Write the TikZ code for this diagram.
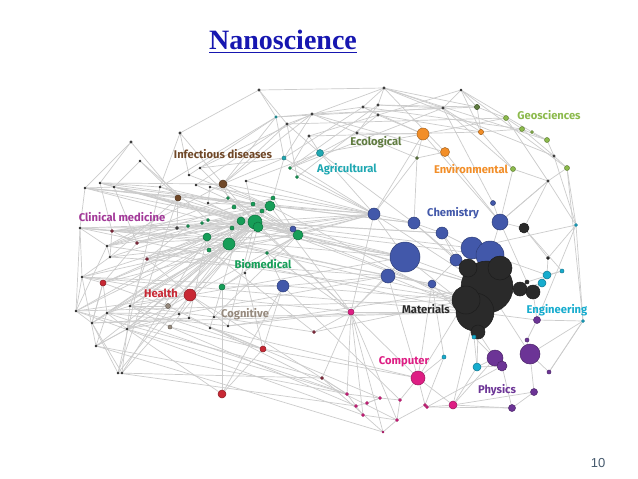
\documentclass[tikz,border=0pt]{standalone}
\usepackage{fontspec}
\setsansfont{Fira Sans}
\newfontfamily\titlefont{Liberation Serif}
\newfontfamily\pagefont{Liberation Sans}
\usepackage{xcolor}
\usepackage{tikz}
\usetikzlibrary{backgrounds}
\definecolor{biomed}{RGB}{22,158,88}
\definecolor{infect}{RGB}{112,72,40}
\definecolor{agri}{RGB}{32,168,178}
\definecolor{ecol}{RGB}{96,124,64}
\definecolor{envir}{RGB}{242,142,40}
\definecolor{geosci}{RGB}{140,186,76}
\definecolor{chem}{RGB}{66,88,170}
\definecolor{mater}{RGB}{42,42,42}
\definecolor{engin}{RGB}{22,172,206}
\definecolor{phys}{RGB}{108,52,150}
\definecolor{comp}{RGB}{222,30,132}
\definecolor{health}{RGB}{200,40,52}
\definecolor{cogn}{RGB}{150,138,126}
\definecolor{clinic}{RGB}{162,56,152}
\definecolor{misc}{RGB}{64,64,64}
\definecolor{dkred}{RGB}{140,44,64}
\definecolor{titleblue}{RGB}{22,22,176}
\definecolor{pagenum}{RGB}{70,90,110}
\tikzset{
  dot/.style      = {circle, inner sep=0pt, fill=#1, draw=#1!70!black, line width=0.25pt},
  link/.style     = {draw=black!20, line width=0.35pt},
  lbl/.style      = {font=\sffamily\bfseries\fontsize{5.6}{6}\selectfont, inner sep=0pt, text=#1},
  titletxt/.style = {font=\titlefont\bfseries\fontsize{14}{16}\selectfont, text=titleblue, inner sep=0pt},
  pagetxt/.style  = {font=\pagefont\fontsize{6.5}{7}\selectfont, text=pagenum, inner sep=0pt},
}

\begin{document}
\begin{tikzpicture}[x=0.5pt,y=-0.5pt]
  \useasboundingbox (0,0) rectangle (638,478);

  \node[titletxt] (title) at (283,42) {\underline{Nanoscience}};
  \node[pagetxt] (page) at (598,463) {10};

  % field nodes: name/x/y/radius/colour
  \foreach \n/\x/\y/\r/\c in {%
    t1/259/90/1.2/misc, t2/180/133/1.2/misc, t3/131/142/1.2/misc, t4/276/117/1.3/agri,
    t5/287/124/1.2/misc, t6/312/114/1.2/misc, t7/309/136/1.2/misc, t8/140/161/1/misc,
    t9/363/107/1.2/misc, t10/378/105/1.2/misc, t11/378/115/1.2/misc, t12/357/133/1.2/misc,
    t13/384/88/1.2/misc, t14/443/108/1.2/misc, t15/461/90/1/misc, t16/548/181/1.2/misc,
    t17/554/156/1.2/misc,
    e1/477/107/2.6/ecol, e2/417/158/1.5/ecol,
    o1/423/134/6/envir, o2/481/132/2.6/envir, o3/445/152/4.5/envir,
    g1/506/118/2.5/geosci, g2/522/129/2.5/geosci, g3/532/132/1.5/geosci, g4/547/140/2.5/geosci,
    g5/567/168/2.5/geosci, g6/513/169/2.5/geosci,
    a1/320/153/3.5/agri, a2/284/158/2/agri,
    i1/223/184/4/infect, i2/178/198/3/infect,
    b1/290/168/1.5/biomed, b2/297/177/1.5/biomed, b3/228/198/1.5/biomed, b4/234/207/2/biomed,
    b5/253/204/2/biomed, b6/273/198/2/biomed, b7/270/206/5/biomed, b8/262/211/2/biomed,
    b9/208/220/1.5/biomed, b10/202/223/1.5/biomed, b11/241/221/4/biomed, b12/255/222/7/biomed,
    b13/258/227/5/biomed, b14/232/228/2/biomed, b15/298/235/5/biomed, b16/207/237/4/biomed,
    b17/229/244/6/biomed, b18/209/250/2/biomed, b19/267/253/1.5/biomed, b20/222/287/3/biomed,
    b21/188/226/1.5/biomed,
    c1/374/214/6/chem, c2/414/223/6/chem, c3/442/233/6/chem, c4/500/222/8/chem,
    c5/493/203/2.5/chem, c6/405/257/15/chem, c7/472/248/11/chem, c8/490/255/14/chem,
    c9/456/260/6/chem, c10/388/276/7/chem, c11/432/284/4/chem, c12/283/286/6/chem,
    c13/293/229/3/chem,
    m1/487/287/26/mater, m2/475/312/19/mater, m3/468/268/9/mater, m4/478/332/7/mater,
    m5/520/289/7/mater, m6/533/292/7/mater, m7/524/228/5/mater, m8/548/258/1.5/mater,
    m9/527/282/2/mater, m10/500/268/12/mater, m11/466/300/14/mater,
    n1/576/225/1.5/engin, n2/547/275/4/engin, n3/542/283/4/engin, n4/562/271/2/engin,
    n5/583/321/1.5/engin, n6/474/337/2/engin, n7/477/367/4/engin, n8/444/357/2/engin,
    p1/537/320/3.5/phys, p2/527/340/2/phys, p3/530/354/10/phys, p4/495/358/8/phys,
    p5/502/366/5/phys, p6/549/372/2/phys, p7/534/392/3.5/phys, p8/512/408/3.5/phys,
    q1/418/378/7/comp, q2/453/405/4/comp, q3/351/312/3/comp, q4/347/394/1.5/comp,
    q5/356/406/1.5/comp, q6/367/403/1.5/comp, q7/363/415/1.5/comp, q8/380/398/1.5/comp,
    q9/400/400/1.5/comp, q10/397/420/1.5/comp, q11/425/405/1.5/comp, q12/427/407/1.5/comp,
    q13/383/432/1/comp,
    h1/190/295/6/health, h2/103/283/3/health, h3/263/349/3/health, h4/222/394/4/health,
    h5/314/332/1.5/dkred, h6/322/378/1.5/dkred,
    k1/168/306/2.5/cogn, k2/170/327/2/cogn, k3/179/314/1/misc, k4/189/318/1/misc,
    k5/214/317/1/misc, k6/228/326/1/misc, k7/210/328/1/misc,
    l1/85/188/1/misc, l2/100/183/1/misc, l3/114/187/1/misc, l4/160/187/1/misc,
    l5/196/185/1/misc, l6/210/187/1/misc, l7/246/181/1/misc, l8/80/228/1/misc,
    l9/112/231/1.5/dkred, l10/137/243/1.5/dkred, l11/107/246/1/misc, l12/147/259/1.5/dkred,
    l13/110/257/1/misc, l14/82/277/1/misc, l16/130/306/1/misc, l17/92/323/1/misc,
    l18/76/311/1/misc, l19/107/313/1/misc, l20/127/329/1/misc, l21/96/346/1/misc,
    l22/118/373/1/misc, l23/122/373/1/misc, l24/245/273/1/misc, l25/177/228/1.5/misc,
    l26/200/168/1/misc, l27/189/175/1/misc, l28/208/203/1/misc}
  {
    \node[dot=\c, minimum size=\r*1pt] (\n) at (\x,\y) {};
  }

  % field names
  \node[lbl=infect] (infectlbl) at (223,154) {Infectious diseases};
  \node[lbl=clinic] (cliniclbl) at (122,217) {Clinical medicine};
  \node[lbl=biomed] (biomedlbl) at (263,264) {Biomedical};
  \node[lbl=health] (healthlbl) at (161,293) {Health};
  \node[lbl=cogn] (cognlbl) at (245,314) {Cognitive};
  \node[lbl=agri] (agrilbl) at (347,169) {Agricultural};
  \node[lbl=ecol] (ecollbl) at (376,142) {Ecological};
  \node[lbl=envir] (envirlbl) at (471,169) {Environmental};
  \node[lbl=geosci] (geoscilbl) at (549,115) {Geosciences};
  \node[lbl=chem] (chemlbl) at (453,213) {Chemistry};
  \node[lbl=mater] (materlbl) at (426,309) {Materials};
  \node[lbl=engin] (enginlbl) at (557,310) {Engineering};
  \node[lbl=comp] (complbl) at (404,362) {Computer};
  \node[lbl=phys] (physlbl) at (497,390) {Physics};

  % citation links
  \begin{scope}[on background layer]
  \fill[white] (0,0) rectangle (638,478);
  \foreach \a/\b in {%
    t2/t1, t1/t5, t1/t4, t2/l4, t2/i1, t2/l27, t3/l2, t3/i2, t3/l1, t8/l3, t8/i2, t8/b9,
    t4/t6, t4/a2, t5/a1, t5/b2, t6/t9, t6/t12, t6/a2, t7/a1, t7/t11, t7/b1, t9/t13, t9/o1,
    t10/t14, t10/e1, t11/o1, t11/o2, t12/o1, t12/e2, t12/a1, t13/t14, t13/o3, t14/t15,
    t14/o2, t14/c5, t15/e1, t15/g3, e1/g1, e1/o2, g1/g2, g2/g4, g3/g4, g4/t17, t17/g5,
    g5/n1, g5/t16, g6/t16, g6/o2, g6/c4, t16/n1, t16/c4, o1/g1, o1/c4, o1/e2, o3/e2,
    o3/c4, o2/g2, e2/c1, e2/c2, a1/c1, a1/b1, a1/o1, a2/i1, a2/b6, t4/i1, b1/t14, b2/t11,
    i1/t6, l5/t5, l4/t4, t1/t13, t10/t13, t9/t11, t12/t10, t17/n1, g2/t17, g1/t16,
    t15/o2, t13/e1, t5/g1, t6/e1, t4/t14, t7/o2, t9/g2, t11/t15, a2/t9, b1/t10, t5/t13,
    t6/o3, l26/t6, i1/t5, t13/g4, t13/t17, t15/g5, t14/g6, o1/c1, n1/n5, g5/n5,
    l1/i2, l1/b9, l2/i1, l3/b11, l4/b12, l5/i1, l6/b7, l7/b12, l8/b12, l8/b16, l9/b17,
    l10/b12, l11/b3, l12/b8, l13/i2, l14/b17, l14/h1, l16/b12, l17/b11, l18/b16, l19/b7,
    l20/b17, l21/h1, l22/i2, l23/b12, l25/b12, i2/b12, i1/b12, i1/b7, i1/b3, b3/b15,
    b9/b15, b10/b7, b11/b15, b14/b7, b16/b6, b17/b6, b18/b12, b21/b13, b4/b15, b5/c13,
    b6/c13, b8/b15, b12/b15, b13/c1, b7/c1, l1/b5, l3/b15, l2/b13, l6/b6, l4/b8, l10/b15,
    l11/b4, l13/b7, l9/b13, l12/b15, h1/b13, h1/b17, h2/b12, h2/b11, h2/l10, k1/b12,
    k1/b17, k2/b7, k3/h1, k4/b16, k5/b15, k6/b12, k7/b11, l16/k5, l17/k4, l18/h1, l19/k6,
    l20/k3, l21/l14, l22/l17, l23/l17, h2/l14, l14/l18, l8/l14, l18/l17, b20/b15, b20/c12,
    b20/l24, l24/b13, k1/l16, h1/k6, h1/b15, k2/h3, l26/b12, l27/b7, l28/b13, l26/a2,
    l27/t4, l28/b7, l9/l10, l11/l13, l13/l9, l1/l8, l2/l9, l3/l10, l8/l11, l12/l16,
    l19/l20, l16/l19, l12/h1, l25/b16, l25/l10, b21/l12, b10/l11, b9/l9, i2/l25, l6/l28,
    b14/b17, b16/b18, b18/b19, b19/b15, b11/b13, b4/b7, b5/b6, b3/b5,
    l22/l4, l23/b16, l22/b11, l23/l16, l21/b12, l21/l19, l17/h2, l18/b12, l20/b7, l19/b13,
    l16/b17, l14/b12, l8/b13, l8/l9, l11/b12, l13/b17, l12/b12, l9/b7, l10/b7, l11/i1,
    l1/b12, l2/b7, l3/b12, l1/l3, l2/l4, l18/l11, l18/l8, l14/l13, l17/l19, l21/l20,
    k3/l19, k4/l20, k1/h2, k2/l16, h2/l17, h2/l19, l20/b12, l17/b17,
    b12/m1, b12/m11, b7/m2, b15/m1, b15/m11, b13/c8, b11/c7, l8/c6, l18/m11, l17/m2,
    k6/m1, k5/m2, k7/q1, h1/q3, k6/q3, l20/q4, k2/q5, l21/q13, h4/c12, l18/h6, h6/q13,
    l22/h6, q3/q4, q3/q7, q3/q10, q3/q13, q3/b7, q3/b13, q3/c1, q3/c10, q3/m2, q3/b12,
    q3/c6, h5/m11, h5/q3, h3/q1, b19/q3, b19/c12, b15/c1, b15/c6, b2/c1, l24/h3, h3/h4,
    k7/h3, b20/h4, b18/h5, k5/h5, b16/c10, b17/c11, b12/c3, b7/c2, b6/c1, b1/c1, a1/c2,
    a2/c1, i1/c1, l7/a1, l7/c1, l5/c13, l14/c12, l16/h3, l20/h4, h3/c12, c12/c10,
    c12/m11, c12/q9, q3/q1, q3/h6, l19/q4, k4/q8,
    l1/c1, l2/c6, l3/c2, l8/m2, l9/c1, l11/m11, l13/c10, l14/m2, l16/c6, l12/c1, b9/c3,
    b16/c1, b17/m11, b10/c6, b14/c6, k3/c10, h2/c1, l21/q4, l22/q5, l18/q7, k1/q10, h1/q4,
    c1/c6, c1/m1, c1/c2, c2/c3, c3/c7, c4/c8, c4/m7, c5/c4, c6/c10, c6/m1, c6/m2, c7/c8,
    c8/m1, c9/m1, c10/m2, c10/c11, c11/m4, c2/m3, c3/c9, c7/m10, c8/n2, m1/m5, m1/m6,
    m5/n3, m6/n2, m7/n4, m8/n1, m9/n4, m2/n6, m4/n7, m4/p4, m1/p3, m2/p1, p1/n5, p3/n5,
    p3/p6, p3/p7, p4/p5, p5/p8, p4/q2, p8/q2, p7/p8, p6/n5, p2/p3, n7/p4, n8/q1, n6/p4,
    q1/q2, q1/q9, q1/q11, q2/q12, q11/q12, q9/q10, q8/q6, q4/q5, q5/q7, q7/q10, q6/q8,
    q13/q10, q12/p8, q2/p7, h6/q4, m11/q1, m2/q2, c10/q1, m7/m8, m8/n2, n1/p1, n2/n4,
    n3/m6, m9/m5, c3/m3, c2/c9, c9/c11, c11/n8, n8/q11, n6/n7, n7/p5, p1/p2, m6/p1,
    n5/p6, c4/m9, c4/t16, m7/t16, c7/n1, q5/q6, q8/q9, q10/q11, q4/q8, q12/p5, q2/n7,
    c11/q1, m4/n6}
  {
    \draw[link] (\a) -- (\b);
  }
  \end{scope}
\end{tikzpicture}
\end{document}
